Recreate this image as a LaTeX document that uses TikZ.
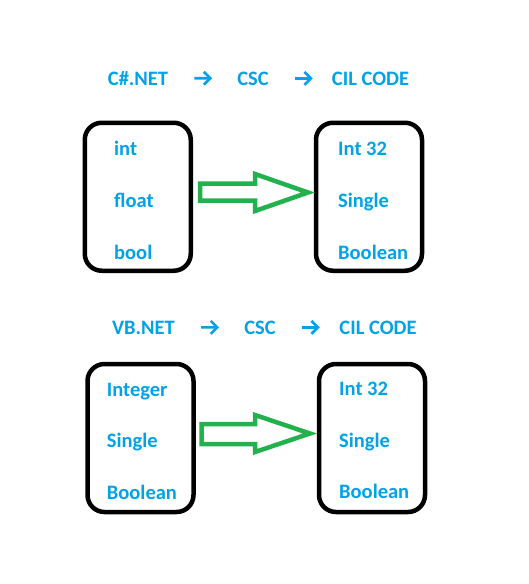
\documentclass[tikz,border=0pt]{standalone}
\usepackage{fontspec}
\setmainfont{Carlito}
\usepackage{tikz}
\usetikzlibrary{positioning,arrows.meta}
\definecolor{paintblue}{HTML}{00A2E8}
\definecolor{paintgreen}{HTML}{22B14C}
\tikzstyle{box} = [rectangle, rounded corners=17pt, minimum width=106pt, minimum height=148pt, draw=black, line width=4.5pt]
\tikzstyle{item} = [anchor=base west, inner sep=0pt, text=paintblue, font=\fontsize{20.5}{24}\selectfont\bfseries]
\tikzstyle{stage} = [item, anchor=base]
\tikzstyle{flow} = [draw=paintblue, line width=2.6pt, -{Straight Barb[length=6.5pt,width=13pt]}, shorten <=26pt, shorten >=25pt]
\tikzstyle{convert} = [draw=paintgreen, line width=4.5pt, line join=miter]

\begin{document}
\begin{tikzpicture}[x=1pt,y=-1pt]
      \useasboundingbox (0,0) rectangle (528,584);
      % C#.NET
      \node (cs) [stage] at (138,85) {C\#.NET};
      \node (csc1) [stage] at (253,85) {CSC};
      \node (cil1) [stage] at (370.5,85) {CIL CODE};
      \draw [flow] (cs) -- (csc1);
      \draw [flow, shorten >=19pt] (csc1) -- (cil1);
      \node (b1) [box] at (137.75,196.75) {};
      \node (b2) [box] at (369,196.75) {};
      \node (t1) [item] at (114,155) {int};
      \node (t2) [item] at (114,207) {float};
      \node (t3) [item] at (114,259) {bool};
      \node (u1) [item] at (338,155) {Int 32};
      \node (u2) [item] at (338,207) {Single};
      \node (u3) [item] at (338,259) {Boolean};
      \draw [convert] (200,183.5) -- (255,183.5) -- (255,174) -- (308,192.5)
            -- (255,211) -- (255,200.5) -- (200,200.5) -- cycle;

      % VB.NET
      \node (vb) [stage] at (143.5,334) {VB.NET};
      \node (csc2) [stage] at (260,334) {CSC};
      \node (cil2) [stage] at (378,334) {CIL CODE};
      \draw [flow] (vb) -- (csc2);
      \draw [flow, shorten >=19.5pt] (csc2) -- (cil2);
      \node (b3) [box] at (140.5,438) {};
      \node (b4) [box] at (372,438) {};
      \node (v1) [item] at (106.7,396) {Integer};
      \node (v2) [item] at (106.7,447) {Single};
      \node (v3) [item] at (106.7,499) {Boolean};
      \node (w1) [item] at (339,395) {Int 32};
      \node (w2) [item] at (339,447) {Single};
      \node (w3) [item] at (339,498) {Boolean};
      \draw [convert] (201.5,424) -- (255,424) -- (255,415) -- (310,433.5)
            -- (255,452) -- (255,444) -- (201.5,444) -- cycle;

    \end{tikzpicture}
\end{document}
